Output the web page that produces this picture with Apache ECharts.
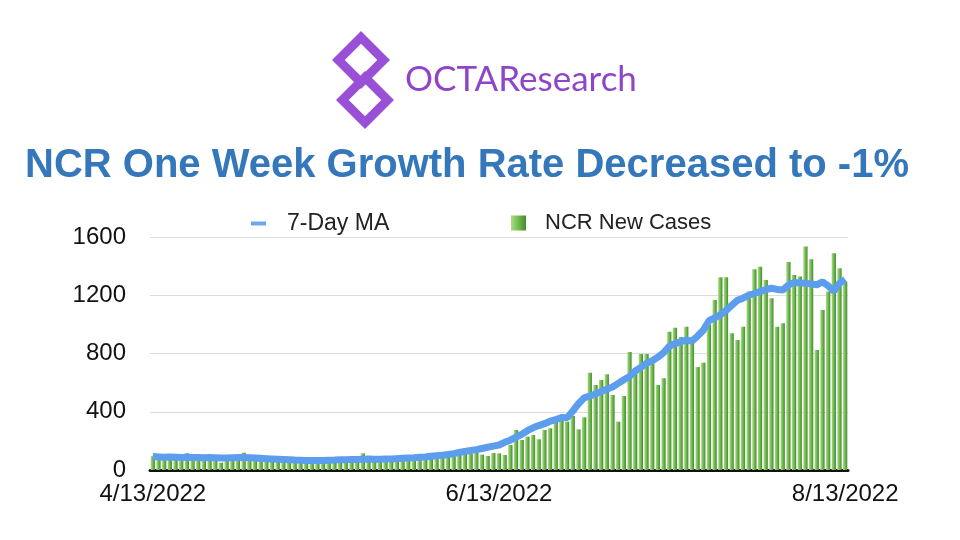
<!DOCTYPE html>
<html>
<head>
<meta charset="utf-8">
<script src="https://cdn.jsdelivr.net/npm/echarts@6/dist/echarts.min.js"></script>
<style>
html,body{margin:0;padding:0;background:#fff;}
#main{width:960px;height:540px;}
</style>
</head>
<body>
<div id="main"></div>
<script>
// 每日新增 (4/13/2022 - 8/13/2022)
var newCases = [
	95, 88, 92, 85, 90, 82, 115, 88, 84, 80, 86,
	83, 50, 85, 80, 84, 119, 82, 78, 76, 80,
	72, 75, 70, 68, 66, 64, 68, 62, 65, 67,
	66, 70, 72, 68, 74, 70, 114, 72, 76, 70,
	74, 78, 76, 80, 82, 85, 88, 92, 95, 100,
	104, 108, 112, 118, 124, 110, 120, 105, 96, 116,
	114, 103, 172, 275, 206, 229, 240, 211, 275, 286,
	355, 343, 332, 371, 279, 362, 668, 584, 618, 657,
	515, 332, 508, 810, 692, 797, 797, 733, 584, 630,
	950, 977, 913, 984, 893, 707, 737, 996, 1168, 1323,
	1323, 939, 893, 984, 1225, 1378, 1396, 1305, 1179, 984,
	1007, 1428, 1339, 1328, 1534, 1447, 824, 1099, 1225, 1488,
	1385, 1293
];
// 7日均线
var ma7 = [
	92, 90, 88, 90, 88, 86, 88, 86, 85, 84, 85,
	84, 82, 83, 84, 85, 86, 84, 82, 80, 78,
	76, 74, 72, 70, 68, 67, 66, 66, 65, 66,
	67, 68, 70, 71, 72, 72, 74, 75, 74, 74,
	75, 76, 78, 80, 82, 84, 87, 90, 94, 98,
	102, 106, 112, 120, 128, 134, 140, 148, 156, 164,
	172, 190, 205, 225, 245, 270, 290, 305, 318, 335,
	345, 360, 358, 405, 455, 495, 508, 522, 540, 555,
	570, 595, 620, 642, 680, 705, 733, 750, 775, 805,
	850, 868, 880, 893, 885, 920, 960, 1025, 1045, 1065,
	1095, 1130, 1165, 1180, 1200, 1212, 1225, 1238, 1248, 1240,
	1236, 1270, 1288, 1285, 1282, 1278, 1272, 1292, 1265, 1228,
	1282, 1310
];
var tickLabels = ['4/13/2022', '6/13/2022', '8/13/2022'];

// 日期
var dates = [];
var d = new Date(2022, 3, 13);
for (var i = 0; i < newCases.length; i++) {
	dates.push((d.getMonth() + 1) + '/' + d.getDate() + '/' + d.getFullYear());
	d.setDate(d.getDate() + 1);
}

var myChart = echarts.init(document.getElementById('main'));
var purple = '#8f45c8';
option = {
	backgroundColor: '#fff',
	animation: false,
	title: [
		{
			text: 'OCTAResearch',
			left: 400, top: 57,
			textStyle: {fontFamily: 'Lato', fontSize: 35, fontWeight: 'normal', color: purple}
		},
		{
			text: 'NCR One Week Growth Rate Decreased to -1%',
			left: 20, top: 141,
			textStyle: {fontFamily: 'Liberation Sans', fontSize: 40, fontWeight: 'bold', color: '#3477ba'}
		}
	],
	graphic: [
		{
			type: 'rect', x: 361, y: 60, rotation: Math.PI / 4,
			shape: {x: -16, y: -16, width: 32, height: 32},
			style: {fill: 'none', stroke: '#9a50d6', lineWidth: 9}
		},
		{
			type: 'rect', x: 365, y: 100, rotation: Math.PI / 4,
			shape: {x: -16, y: -16, width: 32, height: 32},
			style: {fill: 'none', stroke: '#9a50d6', lineWidth: 9}
		}
	],
	legend: [
		{
			data: ['7-Day MA'], left: 246, top: 207,
			icon: 'rect', itemWidth: 15, itemHeight: 4,
			textStyle: {fontFamily: 'Liberation Sans', fontSize: 23, color: '#222', padding: [0, 0, 0, 16]}
		},
		{
			data: ['NCR New Cases'], left: 506, top: 207,
			icon: 'rect', itemWidth: 15, itemHeight: 15,
			textStyle: {fontFamily: 'Liberation Sans', fontSize: 22, color: '#222', padding: [0, 0, 0, 14]}
		}
	],
	grid: {left: 150, right: 112, top: 237, bottom: 70},
	xAxis: {
		type: 'category',
		data: dates,
		axisTick: {show: false},
		axisLine: {lineStyle: {color: '#111', width: 3}},
		axisLabel: {
			interval: function (idx) { return idx === 0 || idx === 61 || idx === dates.length - 1; },
			formatter: function (v) { return tickLabels.indexOf(v) >= 0 ? v : ''; },
			fontFamily: 'Liberation Sans', fontSize: 24, color: '#111', margin: 12
		}
	},
	yAxis: {
		type: 'value',
		min: 0, max: 1600, interval: 400,
		axisLine: {show: false},
		axisTick: {show: false},
		splitLine: {lineStyle: {color: '#dcdcdc', width: 1}},
		axisLabel: {
			formatter: function (v) { return String(v); },
			fontFamily: 'Liberation Sans', fontSize: 24, color: '#111', margin: 24
		}
	},
	series: [
		{
			name: 'NCR New Cases',
			type: 'bar',
			data: newCases,
			barCategoryGap: '25%',
			itemStyle: {
				color: new echarts.graphic.LinearGradient(0, 0, 1, 0, [
					{offset: 0, color: '#a6dc86'},
					{offset: 0.5, color: '#72b951'},
					{offset: 1, color: '#438a2c'}
				])
			},
			z: 1
		},
		{
			name: '7-Day MA',
			type: 'line',
			data: ma7,
			showSymbol: false,
			symbol: 'none',
			lineStyle: {color: '#5c9ded', width: 7},
			itemStyle: {color: '#6fa8ea'},
			z: 3
		}
	]
};
myChart.setOption(option);
</script>
</body>
</html>
